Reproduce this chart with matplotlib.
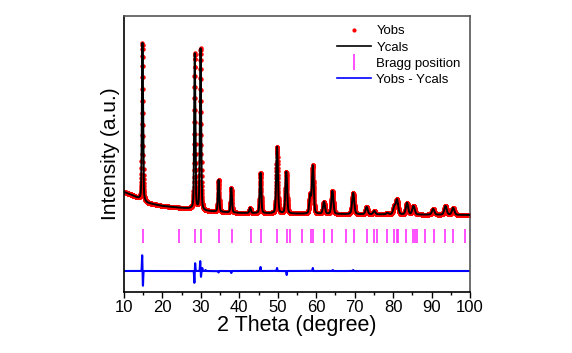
import numpy as np
import matplotlib.pyplot as plt
from matplotlib.lines import Line2D

plt.rcParams['font.family'] = ['Liberation Sans', 'DejaVu Sans']

# peak positions (2theta), peak tops (plot units), widths (fwhm, degree)
peak_pos = [14.8, 28.4, 29.9, 34.6, 37.9, 42.8, 45.5, 49.8, 52.2, 58.4, 59.1,
            62.0, 64.2, 69.6, 73.1, 75.1, 78.5, 80.3, 81.0, 83.6, 85.3,
            90.4, 93.6, 95.6]
peak_top = [249, 238, 243, 112, 104, 84, 119, 145, 120, 96, 126,
            90, 101, 99, 85, 81, 79, 85, 92, 89, 86,
            83, 86, 84]
peak_fwhm = [0.35, 0.35, 0.38, 0.4, 0.4, 0.45, 0.45, 0.5, 0.52, 0.5, 0.55,
             0.6, 0.6, 0.65, 0.65, 0.65, 0.65, 0.7, 0.7, 0.7, 0.75,
             0.75, 0.75, 0.75]

# background (2theta, level)
bg_x = [10, 12, 14, 16, 20, 25, 28, 31, 35, 40, 50, 60, 80, 100]
bg_y = [100, 97, 93, 89, 86, 84, 83, 81, 80, 79, 78.5, 78, 77.5, 77]

# Bragg reflections
bragg_pos = [15.0, 24.4, 28.5, 30.0, 34.7, 38.0, 42.9, 45.6, 49.9, 52.3, 53.2,
             56.2, 58.7, 59.2, 62.1, 64.2, 67.8, 69.8, 73.2, 75.1, 75.8,
             78.3, 80.3, 80.9, 81.2, 83.4, 85.2, 85.7, 86.1, 88.4, 90.5,
             93.6, 95.5, 98.7]

# difference curve spikes (2theta, amplitude)
diff_pos = [14.72, 14.92, 28.3, 28.5, 29.82, 30.02, 30.35, 31.2, 34.6, 37.9,
            45.5, 49.8, 52.3, 59.1, 64.3, 69.6]
diff_amp = [16, -15, -12, 8, 10, -6, 3, 1, -1.5, -2, 4, 3, -4, 3, 1, 1]
diff_base = 21

x = np.arange(10, 100.001, 0.02)


def pvoigt(x, x0, fwhm, eta=0.3):
    s = fwhm / 2.3548
    g = np.exp(-0.5 * ((x - x0) / s) ** 2)
    lo = 1 / (1 + ((x - x0) / (fwhm / 2)) ** 2)
    return eta * lo + (1 - eta) * g


bg = np.interp(x, bg_x, bg_y)
ycal = bg.copy()
for p, t, w in zip(peak_pos, peak_top, peak_fwhm):
    ycal += (t - np.interp(p, bg_x, bg_y)) * pvoigt(x, p, w)
yobs = ycal.copy()

diff = np.full_like(x, diff_base, dtype=float)
for p, a in zip(diff_pos, diff_amp):
    diff += a * np.exp(-0.5 * ((x - p) / 0.07) ** 2)

fig = plt.figure(figsize=(5.72, 3.53), dpi=100)
ax = fig.add_axes([0.2168, 0.1728, 0.605, 0.782])

ax.plot(x, yobs, 'o', color='red', ms=3.2, mew=0, zorder=2)
ax.plot(x, ycal, '-', color='black', lw=1.4, zorder=3)
ax.vlines(bragg_pos, 49, 63, color='#ff33ff', lw=1.2)
ax.plot(x, diff, '-', color='blue', lw=1.5)

ax.set_xlim(10, 100)
ax.set_ylim(0, 276)
ax.set_xticks(np.arange(10, 101, 10))
ax.set_xticks(np.arange(15, 100, 10), minor=True)
ax.set_yticks([])
ax.tick_params(axis='x', direction='out', length=4, width=1, labelsize=12, pad=2)
ax.tick_params(axis='x', which='minor', direction='out', length=2.5, width=1)
for s in ax.spines.values():
    s.set_color('#555555')
    s.set_linewidth(1.2)
ax.spines['left'].set_color('black')
ax.spines['bottom'].set_color('black')

ax.set_xlabel('2 Theta (degree)', fontsize=15.5, labelpad=0)
ax.set_ylabel('Intensity (a.u.)', fontsize=15, labelpad=3)

handles = [
    Line2D([], [], marker='o', ls='none', color='red', ms=3, mew=0),
    Line2D([], [], color='black', lw=1.2),
    Line2D([], [], marker='|', ls='none', color='#ff33ff', ms=11, mew=1.2),
    Line2D([], [], color='blue', lw=1.2),
]
labels = ['Yobs', 'Ycals', 'Bragg position', 'Yobs - Ycals']
ax.legend(handles, labels, loc='upper right', frameon=False, fontsize=9.5,
          handlelength=2.6, handletextpad=0.4, labelspacing=0.3,
          borderaxespad=0.3, bbox_to_anchor=(1.0, 1.0))

fig.savefig('out.png', dpi=100)
